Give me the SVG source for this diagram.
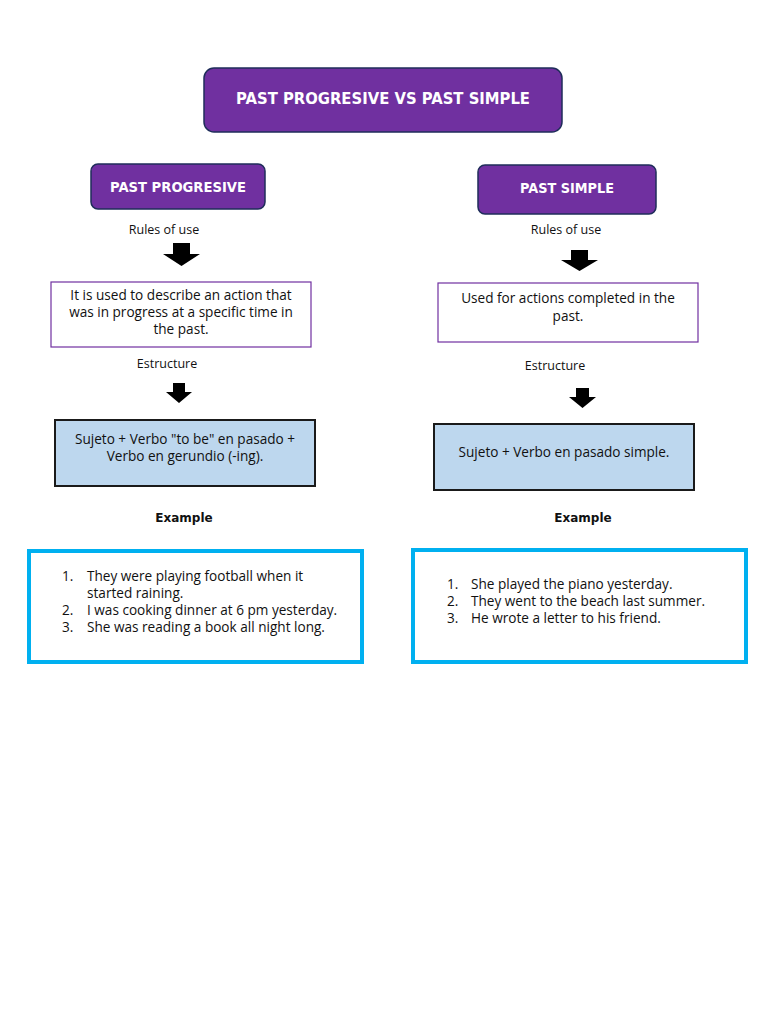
<svg xmlns="http://www.w3.org/2000/svg" width="768" height="1024" viewBox="0 0 768 1024">
<style>
.hdr{fill:#7030a0;stroke:#1f2d5a;stroke-width:1.5}
.hdrt{font-family:"DejaVu Sans",sans-serif;font-weight:900;fill:#ffffff;text-anchor:middle}
.lbl{font-family:"Open Sans","Liberation Sans",sans-serif;font-size:12.5px;fill:#111;text-anchor:middle}
.body{font-family:"Open Sans","Liberation Sans",sans-serif;font-size:13.6px;fill:#111}
.mid{text-anchor:middle}
.rule{fill:#ffffff;stroke:#7030a0;stroke-width:1.2}
.struct{fill:#bdd7ee;stroke:#1a1a1a;stroke-width:2}
.ex{fill:#ffffff;stroke:#00b0f0;stroke-width:4}
.exh{font-family:"DejaVu Sans",sans-serif;font-weight:900;font-size:12px;fill:#111;text-anchor:middle}
.arrow{fill:#000000}
</style>
<rect width="768" height="1024" fill="#ffffff"/>

<g id="title">
<rect class="hdr" x="204" y="68" width="358" height="64" rx="10"/>
<text class="hdrt" x="383" y="104" font-size="15" textLength="294" lengthAdjust="spacingAndGlyphs">PAST PROGRESIVE VS PAST SIMPLE</text>
</g>

<g id="past-progresive">
<rect class="hdr" x="91" y="164" width="174" height="45" rx="7"/>
<text class="hdrt" x="178" y="192" font-size="14" textLength="136" lengthAdjust="spacingAndGlyphs">PAST PROGRESIVE</text>
</g>

<g id="past-simple">
<rect class="hdr" x="478" y="165" width="178" height="49" rx="7"/>
<text class="hdrt" x="567" y="193" font-size="14" textLength="94" lengthAdjust="spacingAndGlyphs">PAST SIMPLE</text>
</g>

<g id="rules-left-label"><text class="lbl" x="164" y="234">Rules of use</text></g>
<g id="rules-right-label"><text class="lbl" x="566" y="234">Rules of use</text></g>

<g id="rule-left">
<rect class="rule" x="51" y="282" width="260" height="65"/>
<text class="body mid" x="181" y="300">It is used to describe an action that</text>
<text class="body mid" x="181" y="317">was in progress at a specific time in</text>
<text class="body mid" x="181" y="334">the past.</text>
</g>

<g id="rule-right">
<rect class="rule" x="438" y="283" width="260" height="59"/>
<text class="body mid" x="568" y="303">Used for actions completed in the</text>
<text class="body mid" x="568" y="321">past.</text>
</g>

<g id="estructure-left-label"><text class="lbl" x="167" y="368">Estructure</text></g>
<g id="estructure-right-label"><text class="lbl" x="555" y="370">Estructure</text></g>

<g id="structure-left">
<rect class="struct" x="55" y="420" width="260" height="66"/>
<text class="body mid" x="185" y="444">Sujeto + Verbo "to be" en pasado +</text>
<text class="body mid" x="185" y="461">Verbo en gerundio (-ing).</text>
</g>

<g id="structure-right">
<rect class="struct" x="434" y="424" width="260" height="66"/>
<text class="body mid" x="564" y="457">Sujeto + Verbo en pasado simple.</text>
</g>

<g id="example-left-label"><text class="exh" x="184" y="522">Example</text></g>
<g id="example-right-label"><text class="exh" x="583" y="522">Example</text></g>

<g id="examples-left">
<rect class="ex" x="29" y="551" width="333" height="111"/>
<text class="body" x="62" y="581">1.</text><text class="body" x="87" y="581">They were playing football when it</text>
<text class="body" x="87" y="598">started raining.</text>
<text class="body" x="62" y="615">2.</text><text class="body" x="87" y="615">I was cooking dinner at 6 pm yesterday.</text>
<text class="body" x="62" y="632">3.</text><text class="body" x="87" y="632">She was reading a book all night long.</text>
</g>

<g id="examples-right">
<rect class="ex" x="413" y="550" width="333" height="112"/>
<text class="body" x="447" y="589">1.</text><text class="body" x="471" y="589">She played the piano yesterday.</text>
<text class="body" x="447" y="606">2.</text><text class="body" x="471" y="606">They went to the beach last summer.</text>
<text class="body" x="447" y="623">3.</text><text class="body" x="471" y="623">He wrote a letter to his friend.</text>
</g>

<g id="connectors">
<path class="arrow" d="M173,243 H190 V254 H200 L181.5,266 L163,254 H173 Z"/>
<path class="arrow" d="M571,250 H588 V260 H598 L579.5,271 L561,260 H571 Z"/>
<path class="arrow" d="M173,383 H185 V392 H192 L179,403 L166,392 H173 Z"/>
<path class="arrow" d="M576,388 H589 V397 H596 L582.5,408 L569,397 H576 Z"/>
</g>
</svg>
